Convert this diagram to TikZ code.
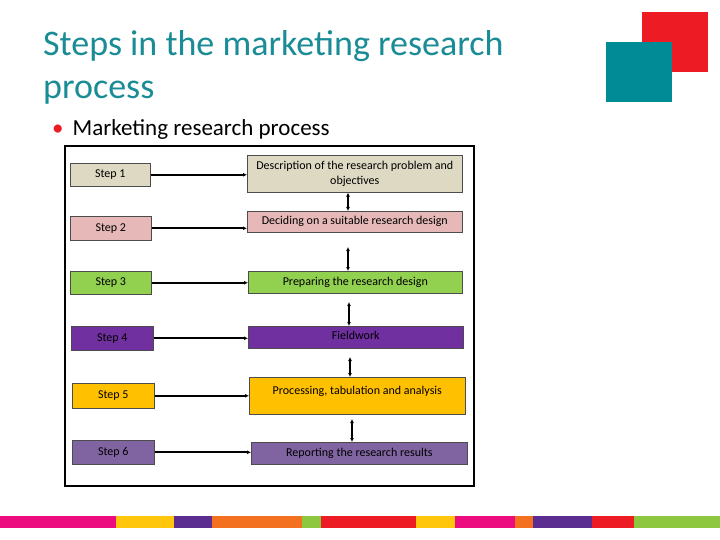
\documentclass[tikz,border=0pt]{standalone}
\usepackage{fontspec}
\setmainfont{Carlito}
\usetikzlibrary{arrows.meta}
\definecolor{teal1}{HTML}{1A8C96}
\definecolor{logoR}{HTML}{ED1C24}
\definecolor{logoT}{HTML}{008B96}
\definecolor{c1}{HTML}{DDD9C3}
\definecolor{c2}{HTML}{E6B9B8}
\definecolor{c3}{HTML}{92D050}
\definecolor{c4}{HTML}{7030A0}
\definecolor{c5}{HTML}{FFC000}
\definecolor{c6}{HTML}{8064A2}
\definecolor{bpink}{HTML}{EC0C80}
\definecolor{byel}{HTML}{FFC60B}
\definecolor{bpur}{HTML}{5B2D90}
\definecolor{bora}{HTML}{F37021}
\definecolor{bgrn}{HTML}{8DC63F}
\definecolor{bred}{HTML}{ED1C24}
\begin{document}
\begin{tikzpicture}[x=1pt,y=-1pt,
  bx/.style={draw=black!70,line width=0.6pt,anchor=north west,inner sep=0pt,font=\fontsize{12}{15}\selectfont,align=center},
  link/.style={line width=1.8pt,-{Latex[length=4pt,width=4pt]}},
  dlink/.style={line width=1.8pt,{Latex[length=4pt,width=4pt]}-{Latex[length=4pt,width=4pt]}}]
\useasboundingbox (0,0) rectangle (720,540);
\fill[logoR] (642,12) rectangle (708,72);
\fill[logoT] (606,42) rectangle (672,102);
\node[anchor=north west,text=teal1,font=\fontsize{36}{43}\selectfont,align=left,inner sep=0pt] (title) at (43,30) {Steps in the marketing research\\process};
\node[anchor=west,font=\fontsize{23}{26}\selectfont,inner sep=0pt] (bul) at (52,129) {\textcolor{logoR}{•}\hspace{9pt}Marketing research process};
\draw[line width=2pt] (65,146) rectangle (474,486);
\node[bx,fill=c1,minimum width=80pt,minimum height=23pt] (s1) at (70,163) {Step 1};
\node[bx,fill=c2,minimum width=81pt,minimum height=24pt] (s2) at (70,216) {Step 2};
\node[bx,fill=c3,minimum width=81pt,minimum height=23pt] (s3) at (70,271) {Step 3};
\node[bx,fill=c4,minimum width=82pt,minimum height=24pt] (s4) at (71,326) {Step 4};
\node[bx,fill=c5,minimum width=82pt,minimum height=25pt] (s5) at (72,383) {Step 5};
\node[bx,fill=c6,minimum width=82pt,minimum height=24pt] (s6) at (72,440) {Step 6};
\node[bx,fill=c1,minimum width=215pt,minimum height=37pt] (r1) at (247,155) {Description of the research problem and\\objectives};
\node[bx,fill=c2,minimum width=215pt,minimum height=21pt] (r2) at (247,211) {Deciding on a suitable research design};
\node[bx,fill=c3,minimum width=214pt,minimum height=22pt] (r3) at (248,271) {Preparing the research design};
\node[bx,fill=c4,minimum width=215pt,minimum height=22pt] (r4) at (248,326) {\raisebox{4pt}{Fieldwork}};
\node[bx,fill=c5,minimum width=216pt,minimum height=37pt] (r5) at (249,377) {\raisebox{10pt}{Processing, tabulation and analysis}};
\node[bx,fill=c6,minimum width=216pt,minimum height=22pt] (r6) at (251,442) {Reporting the research results};
\foreach \i in {1,...,6} \draw[link] (s\i.east) -- (r\i.west |- s\i.east);
\coordinate (a2) at (348,247); \coordinate (a3) at (349,302); \coordinate (a4) at (350,357); \coordinate (a5) at (352,419);
\draw[dlink] (r1.south -| 348,0) -- (r2.north -| 348,0);
\draw[dlink] (a2) -- (r3.north -| a2);
\draw[dlink] (a3) -- (r4.north -| a3);
\draw[dlink] (a4) -- (r5.north -| a4);
\draw[dlink] (a5) -- (r6.north -| a5);
\foreach \a/\b/\c in {0/116/bpink,116/174/byel,174/212/bpur,212/302/bora,302/321/bgrn,321/416/bred,416/455/byel,455/515/bpink,515/533/bora,533/592/bpur,592/634/bred,634/720/bgrn}
  \fill[\c] (\a,516) rectangle (\b,528);
\end{tikzpicture}
\end{document}
